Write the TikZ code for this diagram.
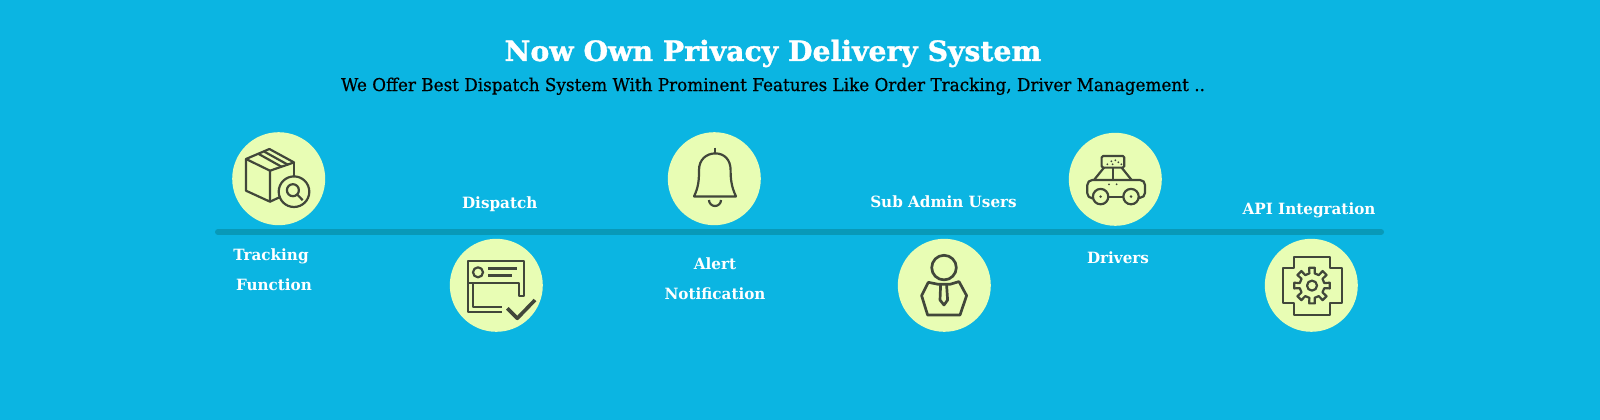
\documentclass[tikz,border=0pt]{standalone}
\usepackage{fontspec}
\newfontfamily\slabfont[FakeStretch=0.955,FakeBold=0.6]{DejaVu Serif}
\newfontfamily\slabboldfont[FakeStretch=0.98]{DejaVu Serif Bold}
\newfontfamily\slabtitlefont[FakeStretch=1.01,FakeBold=1.2]{DejaVu Serif Bold}
\definecolor{skybg}{HTML}{0BB5E2}
\definecolor{linecol}{HTML}{0899B8}
\definecolor{discol}{HTML}{E8FDB4}
\definecolor{iconcol}{HTML}{41473A}
\tikzset{
    iconcircle/.style={circle,fill=discol,minimum size=93pt,inner sep=0pt},
    iconline/.style={draw=iconcol,line width=2.2pt,line join=round},
    caption/.style={anchor=base,text=white,font=\slabboldfont\fontsize{15.5}{18}\selectfont,inner sep=0pt},
}
\begin{document}
\begin{tikzpicture}[x=1pt,y=-1pt]

% Background
\fill[skybg] (0,0) rectangle (1600,420);
\useasboundingbox (0,0) rectangle (1600,420);

% Heading
\node[anchor=base,text=white,inner sep=0pt,font=\slabtitlefont\fontsize{28}{30}\selectfont] (title) at (773,61) {Now Own Privacy Delivery System};
\node[anchor=base,text=black,inner sep=0pt,font=\slabfont\fontsize{17.6}{20}\selectfont] (subtitle) at (773,91) {We Offer Best Dispatch System With Prominent Features Like Order Tracking, Driver Management ..};

% Main line
\coordinate (lineleft) at (218,232);
\coordinate (lineright) at (1381,232);
\draw[linecol,line width=6pt,line cap=round] (lineleft) -- (lineright);

% Discs
\foreach \name/\x/\y in {tracking/278.7/178.7, dispatch/496.3/285.3, alert/714.3/178.7, subadmin/944.3/285.3, drivers/1115.3/179.3, api/1311.3/285.3} {
    \node[iconcircle] (\name) at (\x,\y) {};
}

% Labels
\foreach \name/\x/\y/\label in {ldispatch/499.7/208/Dispatch, ltrack/271/260.7/Tracking, lfunc/274/290.7/Function, lalert/715/269/Alert, lnotif/715/299/Notification, lsub/943.5/207.7/Sub Admin Users, ldrivers/1118/263/Drivers, lapi/1309/214/API Integration} {
    \node[caption] (\name) at (\x,\y) {\label};
}

% Box with magnifier
\begin{scope}[shift={(tracking)},iconline]
    \draw (-32.7,-19.7) -- (-9.3,-29.7) -- (15.3,-16.3) -- (-8.7,-8) -- cycle;
    \draw (-32.7,-19.7) -- (-32.7,12) -- (-8.7,23) -- (-8.7,-8);
    \draw (-8.7,23) -- (2,18);
    \draw (15.3,-16.3) -- (15.3,-2);
    \draw (-20.5,-25) -- (3.5,-11.6);
    \draw (-14.3,-27) -- (9.7,-13.7);
    \draw (15.3,13) circle[radius=15.3];
    \draw (14.2,11.5) circle[radius=6];
    \draw (18.5,15.8) -- (24,21.5);
\end{scope}

% Card with check mark
\begin{scope}[shift={(dispatch)},iconline]
    \draw (5.3,26.3) -- (-28.7,26.3) -- (-28.7,-24.7) -- (27.7,-24.7) -- (27.7,10.3) -- (23,10.3) -- (23,-2) -- (-23.7,-2) -- (-23.7,22) -- (5.3,22);
    \draw (-28.7,-2) -- (-23.7,-2);
    \draw (-18.3,-13) circle[radius=5];
    \draw[line width=3pt] (-8,-17) -- (20.3,-17);
    \draw[line width=3pt] (-8,-10.3) -- (15.3,-10.3);
    \draw[line width=3.6pt] (11,23) -- (21,33) -- (38.7,14.7);
\end{scope}

% Bell
\begin{scope}[shift={(alert)},iconline]
    \draw (1,-31) -- (1,-25.3);
    \draw (-20.3,17.7) .. controls (-15.5,8) and (-15.3,0) .. (-15.3,-8.7) .. controls (-15.3,-19) and (-8,-25.3) .. (1,-25.3) .. controls (10,-25.3) and (16.3,-19) .. (16.3,-8.7) .. controls (16.3,0) and (17,8) .. (21.7,17.7) -- cycle;
    \draw (-5.3,21.3) arc[start angle=180,end angle=0,radius=6];
\end{scope}

% Person with tie
\begin{scope}[shift={(subadmin)},iconline,line width=2.7pt]
    \draw (-0.3,-17.7) circle[radius=12.3];
    \draw (-6,-1) -- (-16,-3) -- (-22.7,10.3) -- (-16.7,29.7) -- (15.7,29.7) -- (22.3,10.3) -- (14.7,-3.7) -- (5.7,-1) -- cycle;
    \draw (-3.7,-0.3) -- (-4.3,14.7) -- (-0.3,19.7) -- (3.3,14.7) -- (2.3,-0.3);
\end{scope}

% Taxi
\begin{scope}[shift={(drivers)},iconline]
    \draw[rounded corners=1.5pt] (-13.7,-23.3) rectangle (9,-11.7);
    \draw (-11.3,-11.7) -- (-21.3,0.7);
    \draw (6.3,-11.7) -- (16.3,0.7);
    \draw (-2.7,-11.7) -- (-2.7,0.7);
    \draw[rounded corners=5pt] (-21.5,19) -- (-28,19) -- (-28,0.7) -- (29.7,0.7) -- (29.7,18.5) -- (23.4,18.5);
    \draw (-7,18) -- (8,18);
    \foreach \wx in {-14.7,15.7} {
        \draw (\wx,17.3) circle[radius=7.7];
        \fill[iconcol] (\wx,17.3) circle[radius=1.4];
    }
    \foreach \dx/\dy in {-6.3/5, 1.3/5, -8/-15, -4/-18, 0/-19, 3/-17, 6/-15, -2.7/-15} {
        \fill[iconcol] (\dx,\dy) circle[radius=1];
    }
\end{scope}

% Chip with gear
\begin{scope}[shift={(api)},iconline]
    \draw (-17.3,-28.7) -- (18.7,-28.7) -- (18.7,-17.7) -- (30.3,-17.7) -- (30.3,18) -- (18.7,18) -- (18.7,29.7) -- (-17.3,29.7) -- (-17.3,18) -- (-28.7,18) -- (-28.7,-17.7) -- (-17.3,-17.7) -- cycle;
    \draw[shift={(0.7,0.3)}] (-12:12.5) \foreach \a in {0,45,...,315} { -- (\a-12:12.5) -- (\a-9:18) -- (\a+9:18) -- (\a+12:12.5) } -- cycle;
    \draw (0.7,0.3) circle[radius=5];
\end{scope}

\end{tikzpicture}
\end{document}
